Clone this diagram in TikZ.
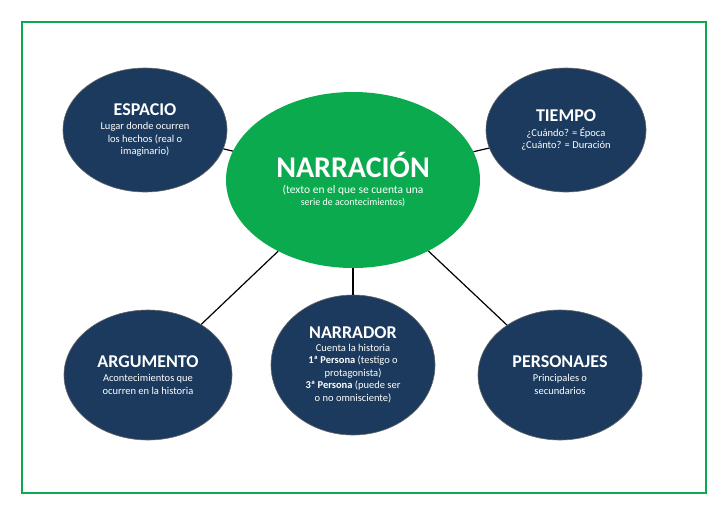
\documentclass[tikz,border=0pt]{standalone}
\usepackage{fontspec}
\setmainfont{Carlito}
\usetikzlibrary{shapes.geometric}
\definecolor{gr}{HTML}{0BAA4F}
\definecolor{nb}{HTML}{1B3A5E}
\newcommand{\hdx}[1]{\fontsize{18}{22}\selectfont\bfseries #1}
\newcommand{\smx}{\fontsize{10.5}{12.5}\selectfont}
\tikzset{
 sat/.style={ellipse,fill=nb,draw=black!60,line width=0.6pt,text=white,inner sep=0pt,align=center,font=\fontsize{10.5}{12.5}\selectfont},
 conn/.style={line width=1.2pt,black}
}
\begin{document}
\begin{tikzpicture}[x=1pt,y=-1pt]
\useasboundingbox (0,0) rectangle (728,515);
\fill[white] (0,0) rectangle (728,515);
\draw[gr,line width=1.5pt] (22,22) rectangle (706,493);
\node[ellipse,fill=gr,minimum width=254pt,minimum height=176pt,inner sep=0pt,text=white,align=center] (c) at (353,180) {%
\fontsize{30}{34}\selectfont\bfseries NARRACIÓN\\[4pt]
\fontsize{11.5}{14}\selectfont\mdseries (texto en el que se cuenta una\\
serie de acontecimientos)};
\node[sat,minimum width=164pt,minimum height=124pt] (e) at (145,130) {\hdx{ESPACIO}\\[2pt] \smx\mdseries Lugar donde ocurren\\ los hechos (real o\\ imaginario)};
\node[sat,minimum width=160pt,minimum height=124pt] (t) at (566,130) {\hdx{TIEMPO}\\[2pt] \smx\mdseries ¿Cuándo? = Época\\ ¿Cuánto? = Duración};
\node[sat,minimum width=168pt,minimum height=130pt] (a) at (148,375) {\hdx{ARGUMENTO}\\[2pt] \smx\mdseries Acontecimientos que\\ ocurren en la historia};
\node[sat,minimum width=164pt,minimum height=140pt] (n) at (353,365) {\hdx{NARRADOR}\\ \smx\mdseries Cuenta la historia\\ \textbf{1ª Persona} (testigo o\\ protagonista)\\ \textbf{3ª Persona} (puede ser\\ o no omnisciente)};
\node[sat,minimum width=164pt,minimum height=130pt] (p) at (560,375) {\hdx{PERSONAJES}\\[2pt] \smx\mdseries Principales o\\ secundarios};
\draw[conn] (c) -- (e);
\draw[conn] (c) -- (t);
\draw[conn] (c) -- (a);
\draw[conn] (c) -- (n);
\draw[conn] (c) -- (p);
\end{tikzpicture}
\end{document}
